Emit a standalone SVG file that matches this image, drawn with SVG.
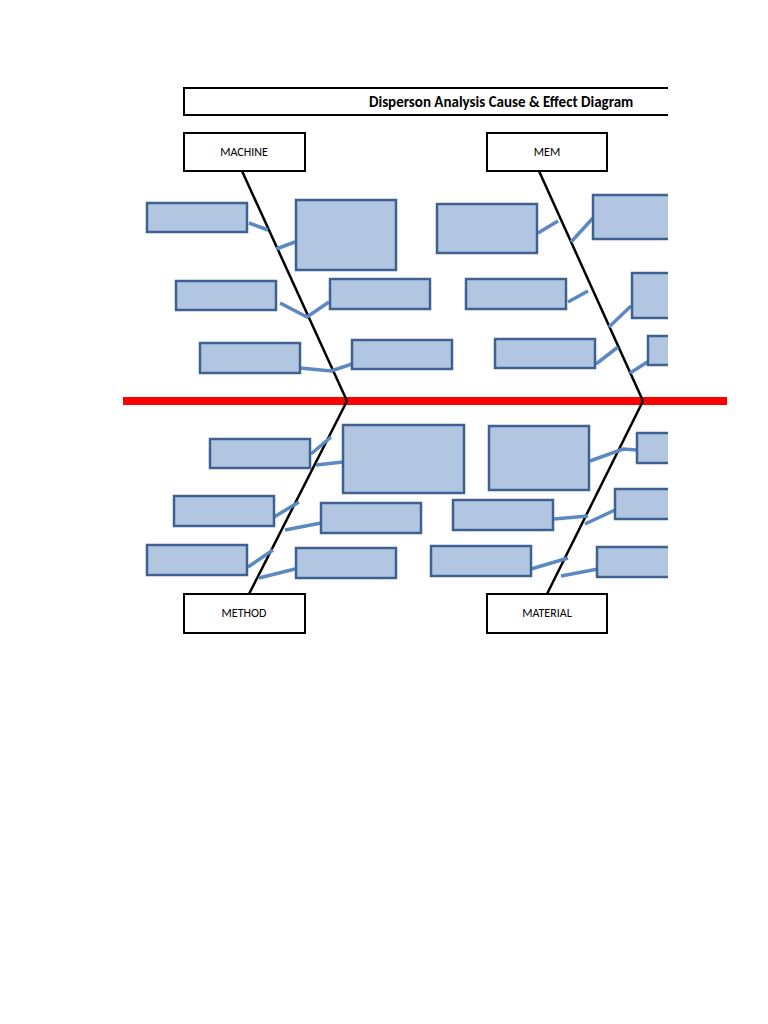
<svg xmlns="http://www.w3.org/2000/svg" width="768" height="1024" viewBox="0 0 768 1024">
<style>
.b{fill:#b2c6e2;stroke:#3d6190;stroke-width:2.5}
.c{stroke:#5d89c2;stroke-width:3.5;fill:none}
.h{fill:#fff;stroke:#000;stroke-width:2}
.t{font-family:Calibri,"Liberation Sans",sans-serif;font-size:12px;text-anchor:middle}
.bone{stroke:#000;stroke-width:2.5}
</style>
<defs><clipPath id="cl"><rect x="0" y="0" width="668" height="1024"/></clipPath></defs>
<rect width="768" height="1024" fill="#fff"/>
<line x1="123" y1="401" x2="727" y2="401" stroke="#ff0000" stroke-width="8"/>
<g clip-path="url(#cl)">
<g id="title"><rect class="h" x="184" y="88" width="520" height="27"/><text x="369" y="107" font-family="Calibri,'Liberation Sans',sans-serif" font-size="15" font-weight="bold">Disperson Analysis Cause &amp; Effect Diagram</text></g>
<g id="connectors">
<line class="bone" x1="242" y1="171" x2="347" y2="401"/>
<line class="bone" x1="539" y1="171" x2="643" y2="401"/>
<line class="bone" x1="249" y1="594" x2="347" y2="401"/>
<line class="bone" x1="547" y1="594" x2="643" y2="401"/>
<path class="c" d="M249 223L268 230M276 249L295 242M280 303L307 317L329 302M300 368L331 371L352 364M538 233L558 221M571 242L593 218M568 302L588 291M609 327L631 306M596 364L618 347M630 373L649 361M311 454L331 437M316 465L343 462M274 517L299 502M285 530L321 523M248 567L273 550M259 578L295 569M590 461L623 449L637 450M554 519L588 516M585 524L615 510M531 569L568 558M561 576L598 569"/>
</g>
<g id="machine"><rect class="h" x="184" y="133" width="121" height="38"/><text class="t" x="244" y="156">MACHINE</text></g>
<g id="mem"><rect class="h" x="487" y="133" width="120" height="38"/><text class="t" x="547" y="156">MEM</text></g>
<g id="method"><rect class="h" x="184" y="594" width="121" height="39"/><text class="t" x="244" y="617">METHOD</text></g>
<g id="material"><rect class="h" x="487" y="594" width="120" height="39"/><text class="t" x="547" y="617">MATERIAL</text></g>
<g id="boxA"><rect class="b" x="147" y="203" width="100" height="29"/></g>
<g id="boxB"><rect class="b" x="296" y="200" width="100" height="70"/></g>
<g id="boxC"><rect class="b" x="176" y="281" width="100" height="29"/></g>
<g id="boxD"><rect class="b" x="330" y="279" width="100" height="30"/></g>
<g id="boxE"><rect class="b" x="200" y="343" width="100" height="30"/></g>
<g id="boxF"><rect class="b" x="352" y="340" width="100" height="29"/></g>
<g id="boxG"><rect class="b" x="437" y="204" width="100" height="49"/></g>
<g id="boxH"><rect class="b" x="593" y="195" width="100" height="44"/></g>
<g id="boxI"><rect class="b" x="466" y="279" width="100" height="30"/></g>
<g id="boxJ"><rect class="b" x="632" y="273" width="100" height="45"/></g>
<g id="boxK"><rect class="b" x="495" y="339" width="100" height="29"/></g>
<g id="boxL"><rect class="b" x="648" y="336" width="100" height="29"/></g>
<g id="boxM"><rect class="b" x="210" y="439" width="100" height="29"/></g>
<g id="boxN"><rect class="b" x="343" y="425" width="121" height="68"/></g>
<g id="boxO"><rect class="b" x="489" y="426" width="100" height="64"/></g>
<g id="boxP"><rect class="b" x="637" y="433" width="100" height="30"/></g>
<g id="boxQ"><rect class="b" x="174" y="496" width="100" height="30"/></g>
<g id="boxR"><rect class="b" x="321" y="503" width="100" height="30"/></g>
<g id="boxS"><rect class="b" x="453" y="500" width="100" height="30"/></g>
<g id="boxT"><rect class="b" x="615" y="489" width="100" height="30"/></g>
<g id="boxU"><rect class="b" x="147" y="545" width="100" height="30"/></g>
<g id="boxV"><rect class="b" x="296" y="548" width="100" height="30"/></g>
<g id="boxW"><rect class="b" x="431" y="546" width="100" height="30"/></g>
<g id="boxX"><rect class="b" x="597" y="547" width="100" height="30"/></g>
</g>
</svg>
